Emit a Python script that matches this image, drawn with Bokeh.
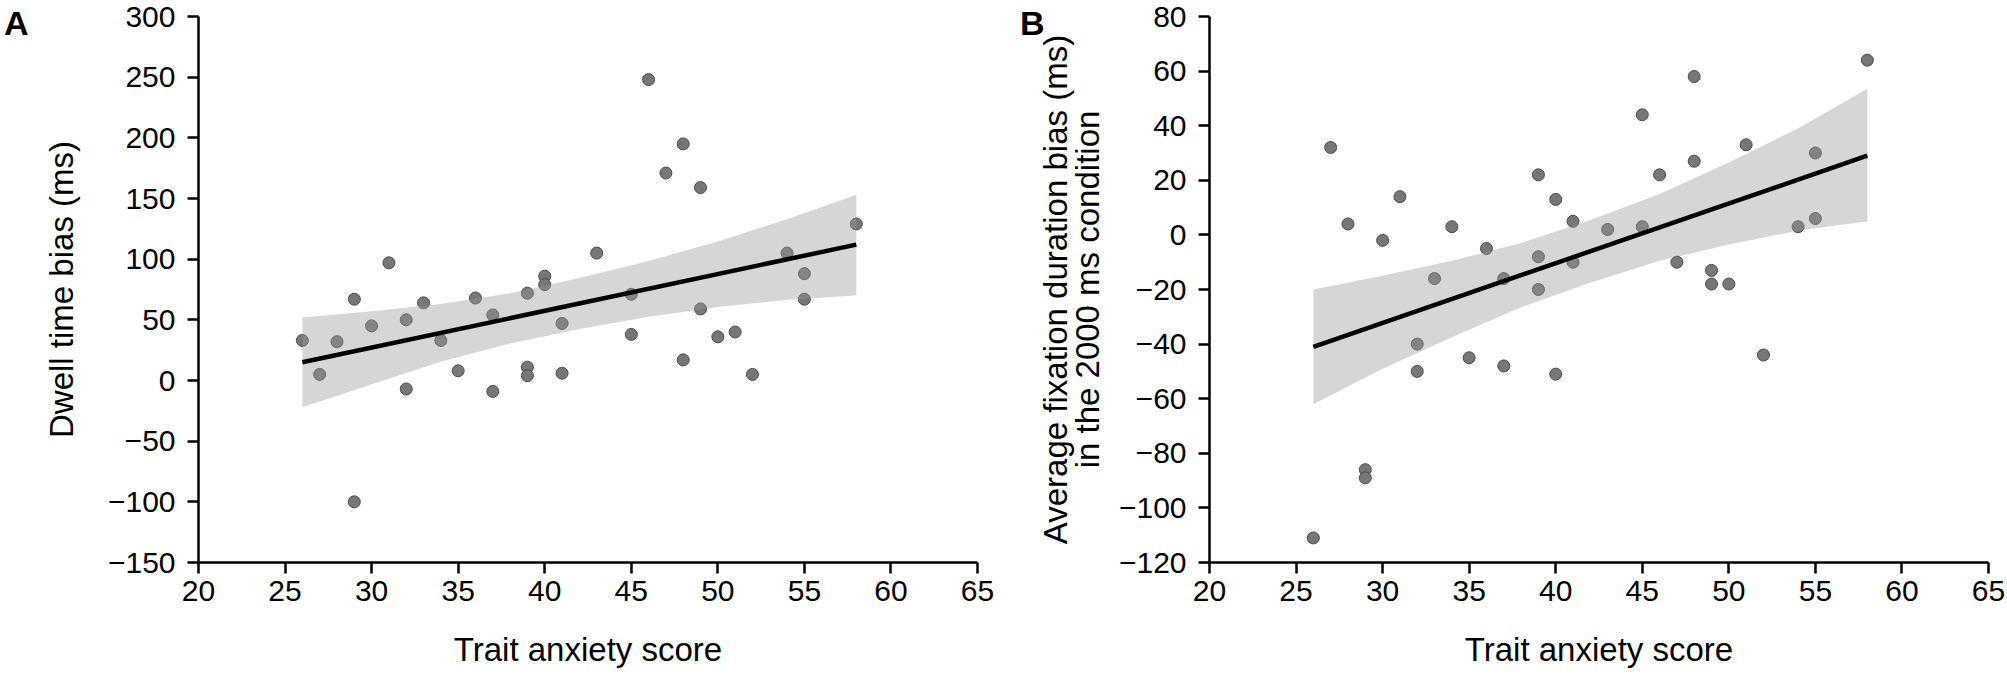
from bokeh.plotting import figure
from bokeh.models import Range1d, FixedTicker, LinearAxis
from bokeh.layouts import row
from bokeh.embed import file_html
from bokeh.resources import INLINE

# trait anxiety scores (same participants in both panels)
anxiety = [26, 27, 28, 29, 29, 30, 31, 32, 32, 33, 34, 35, 36, 37, 37,
           39, 39, 39, 40, 40, 41, 41, 43, 45, 45, 46, 47, 48, 48, 49,
           49, 50, 51, 52, 54, 55, 55, 58]

# panel A: dwell time bias (ms)
dwell_bias = [33, 5, 32, 67, -100, 45, 97, 50, -7, 64, 33, 8, 68, 54, -9,
              72, 11, 4, 86, 79, 47, 6, 105, 71, 38, 248, 171, 195, 17, 159,
              59, 36, 40, 5, 105, 88, 67, 129]

# panel B: average fixation duration bias (ms), 2000 ms condition
fix_bias = [-111, 32, 4, -86, -89, -2, 14, -40, -50, -16, 3, -45, -5, -16, -48,
            22, -8, -20, 13, -51, 5, -10, 2, 44, 3, 22, -10, 58, 27, -13,
            -18, -18, 33, -44, 3, 30, 6, 64]

# fitted lines (end points)
fit_x = [26, 58]
fit_a = [15, 112]
fit_b = [-41, 29]

# confidence bands
band_x = [26, 30, 34, 38, 42, 46, 50, 54, 58]
band_a_lo = [-22, -3, 15.5, 30.5, 42.5, 52.5, 60.5, 66.5, 70]
band_a_hi = [52, 57, 63, 72, 84.5, 98.5, 114.5, 133, 153]
band_b_lo = [-62, -49, -37.5, -26.5, -17.5, -9.5, -3.5, 1.5, 5]
band_b_hi = [-20, -15, -9.5, -3, 5.5, 15, 26.5, 39, 53.5]

x_ticks = [20, 25, 30, 35, 40, 45, 50, 55, 60, 65]
ya_ticks = [-150, -100, -50, 0, 50, 100, 150, 200, 250, 300]
yb_ticks = [-120, -100, -80, -60, -40, -20, 0, 20, 40, 60, 80]

FONT = "Liberation Sans"


def panel(yvals, lo, hi, fit, yrange, yticks, ylabel, letter, width,
          border_left, border_right, title_standoff, letter_standoff):
    p = figure(width=width, height=675, output_backend="svg", toolbar_location=None,
               x_range=Range1d(20, 65), y_range=Range1d(*yrange),
               min_border_left=border_left, min_border_right=border_right,
               min_border_top=16, min_border_bottom=113)
    p.outline_line_color = None
    p.grid.visible = False

    p.scatter(anxiety, yvals, size=12, fill_color="#777777", line_color="#4a4a4a",
              line_width=1)
    p.varea(x=band_x, y1=lo, y2=hi, fill_color="#999999", fill_alpha=0.4)
    p.line(fit_x, fit, line_color="black", line_width=4.5)

    p.xaxis.ticker = FixedTicker(ticks=x_ticks)
    p.yaxis.ticker = FixedTicker(ticks=yticks)
    p.xaxis.axis_label = "Trait anxiety score"
    p.yaxis.axis_label = ylabel
    for ax in (p.xaxis[0], p.yaxis[0]):
        ax.axis_line_width = 2.5
        ax.axis_line_color = "black"
        ax.major_tick_line_width = 2.5
        ax.major_tick_line_color = "black"
        ax.major_tick_in = 0
        ax.major_tick_out = 11
        ax.minor_tick_line_color = None
        ax.major_label_text_font = FONT
        ax.major_label_text_font_size = "30px"
        ax.major_label_text_color = "black"
        ax.axis_label_text_font = FONT
        ax.axis_label_text_font_size = "33px"
        ax.axis_label_text_font_style = "normal"
        ax.axis_label_text_color = "black"
        ax.axis_label_text_line_height = 0.85
    p.xaxis.major_label_standoff = 7
    p.xaxis.axis_label_standoff = 27
    p.yaxis.major_label_standoff = 12
    p.yaxis.axis_label_standoff = title_standoff

    # panel letter: a bare outer axis with a single label at the top of the range
    top = yrange[1]
    tag = LinearAxis(ticker=FixedTicker(ticks=[top]),
                     major_label_overrides={top: letter},
                     axis_line_color=None, major_tick_line_color=None,
                     minor_tick_line_color=None, major_tick_in=0, major_tick_out=0,
                     major_label_standoff=letter_standoff,
                     major_label_text_font=FONT, major_label_text_font_size="34px",
                     major_label_text_font_style="bold",
                     major_label_text_color="black")
    p.add_layout(tag, "left")
    return p


pa = panel(dwell_bias, band_a_lo, band_a_hi, fit_a, (-150, 300), ya_ticks,
           "Dwell time bias (ms)", "A", 1000, 198, 23, 25, 11)
pb = panel(fix_bias, band_b_lo, band_b_hi, fit_b, (-120, 80), yb_ticks,
           "Average fixation duration bias (ms)\nin the 2000 ms condition", "B",
           1007, 209, 19, 10, -10)

page = row(pa, pb)
open("out.html", "w").write(file_html(page, INLINE))
